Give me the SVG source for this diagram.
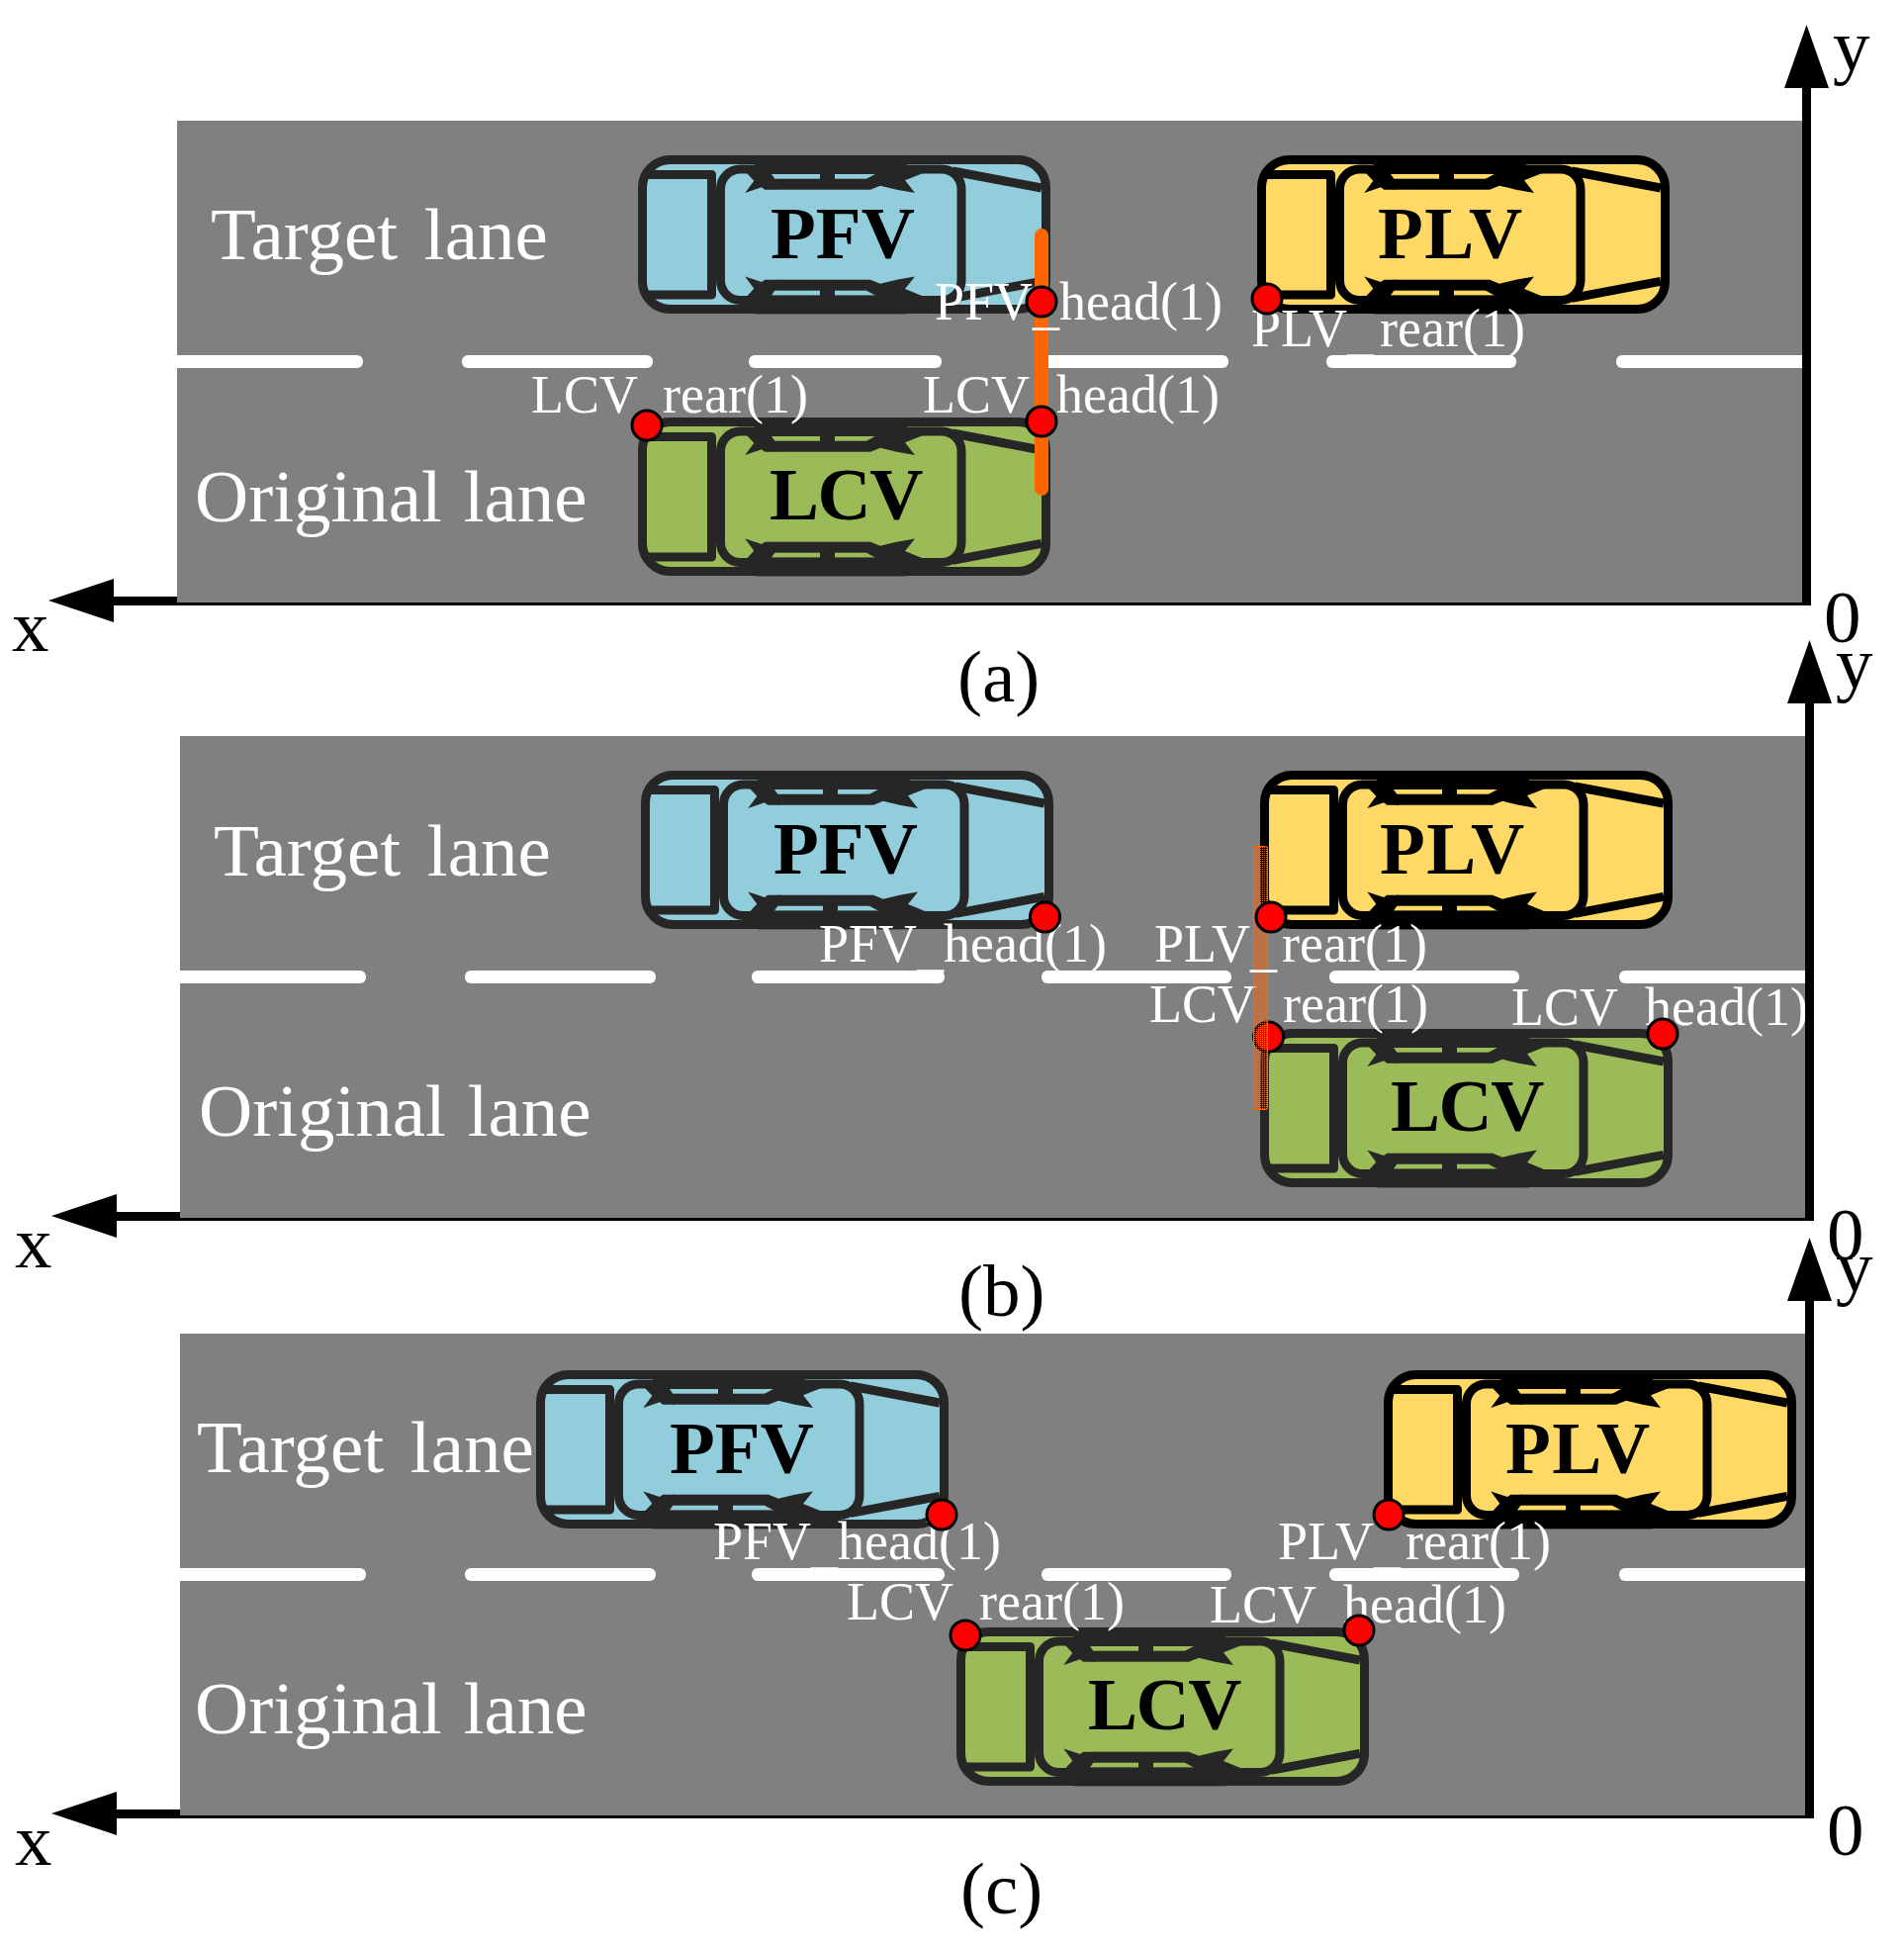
<svg xmlns="http://www.w3.org/2000/svg" xmlns:xlink="http://www.w3.org/1999/xlink" width="1925" height="1968" viewBox="0 0 1925 1968">
<style>
text{font-family:"Liberation Serif","Times New Roman",serif}
.road{fill:#808080}
.dash{fill:#fff}
.lane{font-size:75px;fill:#fff}
.tl{word-spacing:8px}
.ol{word-spacing:3px}
.tag{font-size:54px;fill:#fff}
.us{fill:#262626}
.name{font-size:75px;font-weight:bold;fill:#000}
.nl{letter-spacing:-1.5px}
.np{letter-spacing:1.5px}
.ax{font-size:75px;fill:#000}
.dot{fill:#f00;stroke:#000;stroke-width:3}
.pfv{fill:#92cddc;color:#262626}
.plv{fill:#ffd966;color:#000}
.lcv{fill:#9bbb59;color:#262626}
.bar{fill:#f60}
</style>
<defs>
<pattern id="dots" width="2" height="2" patternUnits="userSpaceOnUse"><rect width="1" height="1" fill="#f60"/></pattern>
<g id="detail">
<rect x="118" y="0" width="154" height="19" fill="currentColor"/>
<rect x="138" y="23.700" width="97" height="11" fill="currentColor"/>
<rect x="184" y="18" width="15" height="7" fill="currentColor"/>
<polygon points="110,18 117.300,25.700 108.300,38 125,32.300 128.300,34.700 140,34.700 138.300,23.700 134.300,18" fill="currentColor"/>
<polygon points="231,23.700 241.700,18 288.300,18 270,25.300 280,38 261.700,34.700 245,30.700 235,34.700" fill="currentColor"/>
<line x1="318" y1="16" x2="408" y2="33" stroke="currentColor" stroke-width="9"/>
</g>
<g id="car">
<rect x="4.500" y="4.500" width="408" height="151" rx="28" stroke="currentColor" stroke-width="9"/>
<path d="M9 19.500H74.500V141H9" fill="none" stroke="currentColor" stroke-width="9" stroke-linejoin="round"/>
<rect x="83.500" y="14" width="243.500" height="132.500" rx="20" fill="none" stroke="currentColor" stroke-width="9"/>
<use xlink:href="#detail" href="#detail"/>
<use xlink:href="#detail" href="#detail" transform="matrix(1 0 0 -1 0 160.400)"/>
</g>
<polygon id="ah" points="0,0 66,-22 66,22" fill="#000"/>
<polygon id="av" points="0,0 -22.500,64 22.500,64" fill="#000"/>
</defs>

<g id="panel-a">
<rect class="road" x="179" y="122" width="1643" height="487"/>
<g class="dash">
<rect x="179" y="359" width="188" height="13" rx="6"/><rect x="179" y="359" width="10" height="13"/><rect x="467" y="359" width="193" height="13" rx="6"/><rect x="757" y="359" width="195" height="13" rx="6"/><rect x="1050" y="359" width="192" height="13" rx="6"/><rect x="1341" y="359" width="192" height="13" rx="6"/><rect x="1634" y="359" width="188" height="13" rx="6"/><rect x="1812" y="359" width="10" height="13"/>
</g>
<text class="lane tl" x="213" y="261.500">Target lane</text>
<text class="lane ol" x="197" y="526.500">Original lane</text>
<g id="a-pfv"><use xlink:href="#car" href="#car" class="pfv" x="645" y="157"/><text class="name" x="779" y="261">PFV</text></g>
<g id="a-plv"><use xlink:href="#car" href="#car" class="plv" x="1271" y="157"/><text class="name np" x="1393" y="261">PLV</text></g>
<g id="a-lcv"><use xlink:href="#car" href="#car" class="lcv" x="645" y="422"/><text class="name nl" x="778" y="525">LCV</text></g>
<rect class="bar" x="1046" y="231" width="14" height="270" rx="7"/>
<text class="tag" x="945" y="323">PFV<tspan dy="4">_</tspan><tspan dy="-4">head(1)</tspan></text>
<text class="tag" x="1265" y="350">PLV<tspan dy="4">_</tspan><tspan dy="-4" dx="6">rear(1)</tspan></text>
<text class="tag" x="537" y="417">LCV<tspan dy="4" class="us">_</tspan><tspan dy="-4" dx="-2">rear(1)</tspan></text>
<text class="tag" x="933" y="417">LCV<tspan dy="4" class="us">_</tspan><tspan dy="-4">head(1)</tspan></text>
<circle class="dot" cx="1053" cy="305" r="15"/><circle class="dot" cx="1053" cy="426" r="15"/><circle class="dot" cx="654" cy="430" r="15"/><circle class="dot" cx="1281" cy="302" r="15"/>
</g>

<g id="panel-b">
<rect class="road" x="182" y="744" width="1643" height="487"/>
<g class="dash">
<rect x="182" y="981" width="188" height="13" rx="6"/><rect x="182" y="981" width="10" height="13"/><rect x="470" y="981" width="193" height="13" rx="6"/><rect x="760" y="981" width="195" height="13" rx="6"/><rect x="1053" y="981" width="192" height="13" rx="6"/><rect x="1344" y="981" width="192" height="13" rx="6"/><rect x="1637" y="981" width="188" height="13" rx="6"/><rect x="1815" y="981" width="10" height="13"/>
</g>
<text class="lane tl" x="216" y="884.500">Target lane</text>
<text class="lane ol" x="201" y="1147.500">Original lane</text>
<g id="b-pfv"><use xlink:href="#car" href="#car" class="pfv" x="648" y="779"/><text class="name" x="782" y="883">PFV</text></g>
<g id="b-plv"><use xlink:href="#car" href="#car" class="plv" x="1274" y="779"/><text class="name np" x="1395" y="883">PLV</text></g>
<g id="b-lcv"><use xlink:href="#car" href="#car" class="lcv" x="1274" y="1040"/><text class="name nl" x="1406" y="1143">LCV</text></g>
<text class="tag" x="1162" y="1033">LCV<tspan dy="4" class="us">_</tspan><tspan dy="-4">rear(1)</tspan></text>
<circle class="dot" cx="1282.500" cy="1048" r="15"/>
<rect x="1267.500" y="855.500" width="14" height="266" rx="2" fill="url(#dots)" stroke="#f60" stroke-width="1"/>
<text class="tag" x="828" y="972">PFV<tspan dy="4">_</tspan><tspan dy="-4">head(1)</tspan></text>
<text class="tag" x="1167" y="972">PLV<tspan dy="4">_</tspan><tspan dy="-4" dx="5">rear(1)</tspan></text>
<text class="tag" x="1528" y="1036">LCV<tspan dy="4" class="us">_</tspan><tspan dy="-4">head(1)</tspan></text>
<circle class="dot" cx="1056.500" cy="927" r="15"/><circle class="dot" cx="1285" cy="927" r="15"/><circle class="dot" cx="1681" cy="1045" r="15"/>
</g>

<g id="panel-c">
<rect class="road" x="182" y="1348" width="1643" height="487"/>
<g class="dash">
<rect x="182" y="1585" width="188" height="13" rx="6"/><rect x="182" y="1585" width="10" height="13"/><rect x="470" y="1585" width="193" height="13" rx="6"/><rect x="760" y="1585" width="195" height="13" rx="6"/><rect x="1053" y="1585" width="192" height="13" rx="6"/><rect x="1344" y="1585" width="192" height="13" rx="6"/><rect x="1637" y="1585" width="188" height="13" rx="6"/><rect x="1815" y="1585" width="10" height="13"/>
</g>
<text class="lane tl" x="199" y="1487.500">Target lane</text>
<text class="lane ol" x="197" y="1751.500">Original lane</text>
<g id="c-pfv"><use xlink:href="#car" href="#car" class="pfv" x="542" y="1385"/><text class="name" x="677" y="1489">PFV</text></g>
<g id="c-plv"><use xlink:href="#car" href="#car" class="plv" x="1399" y="1385"/><text class="name np" x="1522" y="1489">PLV</text></g>
<g id="c-lcv"><use xlink:href="#car" href="#car" class="lcv" x="967" y="1645"/><text class="name nl" x="1100" y="1748">LCV</text></g>
<text class="tag" x="721" y="1576">PFV<tspan dy="4">_</tspan><tspan dy="-4">head(1)</tspan></text>
<text class="tag" x="1292" y="1576">PLV<tspan dy="4">_</tspan><tspan dy="-4" dx="5">rear(1)</tspan></text>
<text class="tag" x="856" y="1637">LCV<tspan dy="4" class="us">_</tspan><tspan dy="-4" dx="-1">rear(1)</tspan></text>
<text class="tag" x="1223" y="1640">LCV<tspan dy="4" class="us">_</tspan><tspan dy="-4">head(1)</tspan></text>
<circle class="dot" cx="952" cy="1531" r="15"/><circle class="dot" cx="1404" cy="1531" r="15"/><circle class="dot" cx="976" cy="1653" r="15"/><circle class="dot" cx="1374" cy="1648" r="15"/>
</g>

<g id="connectors">
<rect x="115" y="603" width="64" height="9"/><rect x="179" y="609" width="1643" height="3"/><rect x="1822" y="89" width="9" height="523"/>
<use xlink:href="#ah" href="#ah" x="49" y="607"/><use xlink:href="#av" href="#av" x="1826.500" y="25"/>
<rect x="118" y="1225" width="64" height="9"/><rect x="182" y="1231" width="1643" height="3"/><rect x="1825" y="711" width="9" height="523"/>
<use xlink:href="#ah" href="#ah" x="52" y="1229"/><use xlink:href="#av" href="#av" x="1829.500" y="647"/>
<rect x="118" y="1829" width="64" height="9"/><rect x="182" y="1835" width="1643" height="3"/><rect x="1825" y="1315" width="9" height="523"/>
<use xlink:href="#ah" href="#ah" x="52" y="1833"/><use xlink:href="#av" href="#av" x="1829.500" y="1251"/>
</g>

<g id="axis-labels">
<text class="ax" x="12" y="658">x</text><text class="ax" x="1853" y="71">y</text><text class="ax" x="1844" y="649">0</text><text class="ax" x="968" y="709">(a)</text>
<text class="ax" x="15" y="1281">x</text><text class="ax" x="1856" y="695">y</text><text class="ax" x="1847" y="1273">0</text><text class="ax" x="969" y="1330">(b)</text>
<text class="ax" x="15" y="1885">x</text><text class="ax" x="1856" y="1305">y</text><text class="ax" x="1847" y="1875">0</text><text class="ax" x="971" y="1934">(c)</text>
</g>
</svg>
